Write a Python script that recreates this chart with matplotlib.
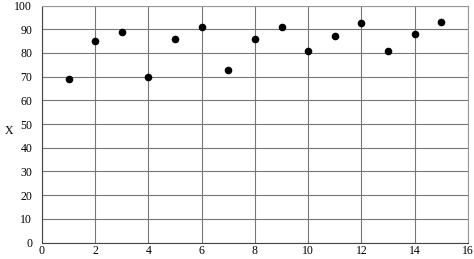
import numpy as np
import matplotlib.pyplot as plt

# DATOS
x_vals = [1, 2, 3, 4, 5, 6, 7, 8, 9, 10, 11, 12, 13, 14, 15]
y_vals = [69, 85, 89, 70, 86, 91, 73, 86, 91, 80.7, 87, 92.5, 81, 88, 93]

plt.rcParams['font.family'] = ['Liberation Serif', 'DejaVu Serif']

fig = plt.figure(figsize=(4.74, 2.59), dpi=100)
ax = fig.add_axes([0.0886, 0.0637, 0.8984, 0.915])

ax.scatter(x_vals, y_vals, s=20, color='black', zorder=3)

ax.set_xlim(0, 16)
ax.set_ylim(0, 100)
ax.set_xticks(np.arange(0, 17, 2))
ax.set_yticks(np.arange(0, 101, 10))
ax.grid(True, color='#777777', linewidth=0.8)
ax.tick_params(axis='x', length=0, labelsize=8.5, pad=2)
ax.tick_params(axis='y', length=0, labelsize=8.5, pad=7)
for s in ['top', 'right']:
    ax.spines[s].set_color('#999999')
for s in ['left', 'bottom']:
    ax.spines[s].set_color('#444444')
    ax.spines[s].set_linewidth(0.8)

ax.set_ylabel('X', rotation=0, fontsize=8.5, va='center', ha='center')
ax.yaxis.set_label_coords(-0.077, 0.47)

plt.savefig('out.png', dpi=100)
